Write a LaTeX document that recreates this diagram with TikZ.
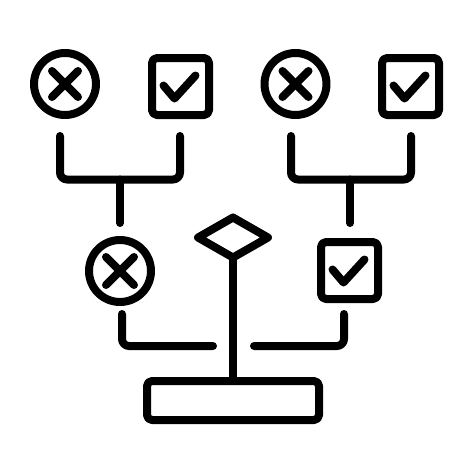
\documentclass[tikz,border=0pt]{standalone}
\usetikzlibrary{calc}
\begin{document}
\begin{tikzpicture}[x=1pt,y=-1pt,
  ln/.style={line width=8pt,line cap=round,line join=round},
  xcirc/.style={circle,draw,ln,minimum size=62pt,inner sep=0pt},
  chkbox/.style={rectangle,draw,ln,minimum size=57pt,inner sep=0pt,rounded corners=5pt},
  brk/.style={ln,rounded corners=7pt}]
\useasboundingbox (0,0) rectangle (474,474);
% top row
\node[xcirc] (c1) at (65,84) {};
\node[chkbox] (b1) at (180.5,86.5) {};
\node[xcirc] (c2) at (295.5,84) {};
\node[chkbox] (b2) at (410.5,86.5) {};
% middle row
\node[xcirc] (c3) at (120,271) {};
\node[chkbox] (b3) at (349.5,270.5) {};
% diamond
\coordinate (dt) at (233,217.5);
\coordinate (dr) at (268,237.5);
\coordinate (db) at (233,257.5);
\coordinate (dl) at (198,237.5);
\draw[ln] (dt) -- (dr) -- (db) -- (dl) -- cycle;
% bottom rectangle
\node[rectangle,draw,ln,minimum width=172pt,minimum height=39pt,inner sep=0pt,rounded corners=5pt] (r) at (233,400.5) {};
% crosses
\foreach \n/\s in {c1/13,c2/13,c3/14}{
  \draw[ln] ($(\n.center)+(-\s,-\s)$) -- ($(\n.center)+(\s,\s)$);
  \draw[ln] ($(\n.center)+(-\s,\s)$) -- ($(\n.center)+(\s,-\s)$);
}
% checks
\foreach \n in {b1,b2,b3}{
  \draw[ln] ($(\n.center)+(-17,-1)$) -- ($(\n.center)+(-6,12)$) -- ($(\n.center)+(15,-11)$);
}
% top-left bracket
\coordinate (l1a) at (60,136);
\coordinate (l1b) at (180,136);
\coordinate (j1) at (120,179.5);
\coordinate (s1) at (120,223);
\draw[brk] (l1a) |- (j1) -| (l1b);
\draw[ln] (j1) -- (s1);
% top-right bracket
\coordinate (l2a) at (291,136);
\coordinate (l2b) at (411,136);
\coordinate (j2) at (350,179.5);
\coordinate (s2) at (350,223);
\draw[brk] (l2a) |- (j2) -| (l2b);
\draw[ln] (j2) -- (s2);
% lower brackets
\coordinate (l3a) at (122,314);
\coordinate (l3b) at (213,346);
\draw[brk] (l3a) |- (l3b);
\coordinate (l4a) at (344,314);
\coordinate (l4b) at (254,346);
\draw[brk] (l4a) |- (l4b);
% stem from diamond to rectangle
\draw[ln] (db) -- (r.north);
\end{tikzpicture}
\end{document}
